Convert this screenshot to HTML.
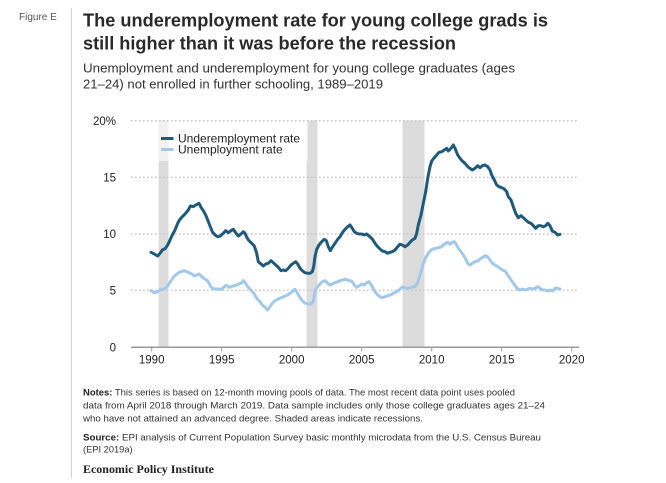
<!DOCTYPE html>
<html>
<head>
<meta charset="utf-8">
<style>
  html,body{margin:0;padding:0;background:#fff;}
  svg{display:block;}
  text{font-family:"Liberation Sans", Arial, sans-serif;}
</style>
</head>
<body>
<svg width="666" height="483" viewBox="0 0 666 483" xmlns="http://www.w3.org/2000/svg">
  <rect width="666" height="483" fill="#fff"/>
  <!-- left rule -->
  <line x1="71.5" y1="8" x2="71.5" y2="478" stroke="#d0d0d0" stroke-width="1"/>
  <text x="19" y="20" font-size="10" fill="#555">Figure E</text>

  <!-- Title -->
  <text x="83" y="26.5" font-size="18.2" font-weight="bold" fill="#2a2a2a" textLength="465" lengthAdjust="spacingAndGlyphs">The underemployment rate for young college grads is</text>
  <text x="83" y="49.5" font-size="18.2" font-weight="bold" fill="#2a2a2a" textLength="373" lengthAdjust="spacingAndGlyphs">still higher than it was before the recession</text>

  <!-- Subtitle -->
  <text x="83" y="72.5" font-size="13.2" fill="#333" textLength="432" lengthAdjust="spacingAndGlyphs">Unemployment and underemployment for young college graduates (ages</text>
  <text x="83" y="88.5" font-size="13.2" fill="#333" textLength="300" lengthAdjust="spacingAndGlyphs">21–24) not enrolled in further schooling, 1989–2019</text>

  <!-- Recession bars -->
  <rect x="158.7" y="120.5" width="9.8" height="226.8" fill="#dcdcdc"/>
  <rect x="306.5" y="120.5" width="11" height="226.8" fill="#dcdcdc"/>
  <rect x="402.5" y="120.5" width="22" height="226.8" fill="#dcdcdc"/>

  <!-- Legend background -->
  <rect x="158" y="121" width="150" height="40" fill="#fff" fill-opacity="0.6"/>

  <!-- Gridlines -->
  <g stroke="#c8c8c8" stroke-width="1.5" stroke-dasharray="1.6 2.4">
    <line x1="131" y1="120.7" x2="579" y2="120.7"/>
    <line x1="131" y1="177.3" x2="579" y2="177.3"/>
    <line x1="131" y1="234" x2="579" y2="234"/>
    <line x1="131" y1="290.3" x2="579" y2="290.3"/>
  </g>

  <!-- Axis -->
  <line x1="131" y1="347.3" x2="579" y2="347.3" stroke="#9a9a9a" stroke-width="1.5"/>
  <g stroke="#9a9a9a" stroke-width="1">
    <line x1="151.7" y1="347.3" x2="151.7" y2="351.5"/>
    <line x1="221.7" y1="347.3" x2="221.7" y2="351.5"/>
    <line x1="291.7" y1="347.3" x2="291.7" y2="351.5"/>
    <line x1="361.7" y1="347.3" x2="361.7" y2="351.5"/>
    <line x1="431.7" y1="347.3" x2="431.7" y2="351.5"/>
    <line x1="501.7" y1="347.3" x2="501.7" y2="351.5"/>
    <line x1="571.7" y1="347.3" x2="571.7" y2="351.5"/>
  </g>

  <!-- Y labels -->
  <g font-size="11.5" fill="#222" text-anchor="end">
    <text x="116" y="124.8">20%</text>
    <text x="116" y="181.4">15</text>
    <text x="116" y="238.1">10</text>
    <text x="116" y="294.4">5</text>
    <text x="116" y="351.4">0</text>
  </g>
  <!-- X labels -->
  <g font-size="11.5" fill="#222" text-anchor="middle">
    <text x="151.7" y="363.5">1990</text>
    <text x="221.7" y="363.5">1995</text>
    <text x="291.7" y="363.5">2000</text>
    <text x="361.7" y="363.5">2005</text>
    <text x="431.7" y="363.5">2010</text>
    <text x="501.7" y="363.5">2015</text>
    <text x="571.7" y="363.5">2020</text>
  </g>

  <!-- Unemployment series -->
  <polyline fill="none" stroke="#a2c8ea" stroke-width="3" stroke-linejoin="round" stroke-linecap="round"
    points="151,290.7 154.3,292.7 157.7,291.7 160,290 163.3,289.3 165.7,288.3 168.3,285 171,280.7 173.3,277.3 175.7,275 178.3,272.7 181,271.7 184.3,270.7 186.7,271.7 189,272.7 191.7,274 194.3,276 196.7,275 199,274 201.7,276.7 204.3,278.7 207.7,280.7 210,285 212.3,288.3 215,289 218.3,289 221.7,289.3 224.3,286.7 226.7,285.3 229,287.3 231.7,286.3 234.3,285.7 236.7,285 239,284 241.7,282.7 243.3,280.7 245,282.7 247.7,286.7 251,290 254.3,294 256.7,298.3 260,301.7 262.3,305 265,307.3 267.7,310 270,306.7 272.3,303.3 275,300.7 277.7,299.3 280,298.3 282.3,297.3 285,296 287.7,295 290,293.3 292.3,291.7 295,289.3 296.7,291.7 299,296 301.7,300 304.3,302.7 307.7,304 311,304 313.3,301.7 314.3,295 315.7,289.3 317.7,286.7 320,284 322.3,281.7 325,280.7 327.7,283.3 330,285 332.3,284 335,282.7 337.7,281.7 340,280.7 342.3,280 345,279.3 347.7,280 350,280.7 352.3,281.7 354.3,285 356.7,287.3 359,286 361.7,284 364.3,285 366.7,282.7 369,281.7 372.3,286.7 375,291.7 377.7,295 380,296.7 382.3,297.7 385,296.7 387.7,295.7 390,295 392.3,294 395,292.3 397.7,291 400,289 402.3,287 405,287.7 407.7,288.3 410,287.7 412.3,287 415,286.7 417.3,283.3 419,278.3 421,271.7 423.3,263.3 425.7,257.7 428.3,253.3 431,250 433.3,249 435.7,248.3 438.3,247.7 441,247 443.3,245 445.7,243.3 447.7,242.3 450,244.3 452.3,242.3 454.3,241.7 455.7,243.3 458.3,248.3 461,251.7 463.3,255 465.7,259 467.7,263.3 470,265 472.3,263.3 475,261.7 477.7,261 480,259 482.3,257.7 485,255.7 487.7,256.7 490,260 492.3,263.3 495,265 497.7,266.7 500,268.3 502.3,270 505,271 507.7,275 510,278.3 512.3,281.7 515,285.7 517.7,289 520,290 522.3,289 525,290 527.7,289 530,288.3 532.3,289 535,288.3 537.7,286.7 540,288.3 542.3,290 545,290 547.7,291 550,290 552.3,291 555,288.3 557.7,288.3 560,289"/>

  <!-- Underemployment series -->
  <polyline fill="none" stroke="#1f5a7a" stroke-width="3" stroke-linejoin="round" stroke-linecap="round"
    points="151,252.3 154.3,254 157.7,256 160,253.3 162.3,250 165,248.7 167.7,245 170,240 172.3,235 175,230 177.7,223.3 180,219.3 182.3,216.7 185,214 188.3,210 190.3,206 193.3,206.7 195.7,205 199,203.3 201,207.3 203.3,210.7 205.7,215 207.7,220 210,226 212.3,231.7 215,235 217.7,236.7 220.3,236 223.3,233.3 225.7,230.7 228.3,232.7 231,230.7 233.3,229.3 235.7,232.7 238.3,236 241,234 243.3,231.7 245,233.3 246.7,237.3 249,240.7 251.7,243.3 254.3,246 256.7,253.3 258.3,261.7 261,264 263.3,266 265.7,264 268.3,263.3 271,260.7 273.3,262.7 275.7,265 278.3,267.3 281,270.7 283.3,270 285.7,270.7 288.3,268.3 291,265 293.3,263.3 295.7,261.7 297.7,264 300,268.3 302.3,270.7 305,272.7 307.7,273.3 310,273.3 312.3,271.7 313.7,266.7 315,256.7 316.7,249.3 319,245 321.7,241.7 324.3,239.3 326.3,240.7 328.3,246.7 330.3,250.7 332.3,247.3 335,243.3 337.7,239.3 340,236.7 342.3,232.7 345,229.3 347.7,226.7 350,225 352.3,228.3 354.3,231.7 356.7,233.3 359,234 361.7,234 364.3,235 366.7,234 369,236 372.3,239 375,243.3 377.7,246.7 380,249 382.3,251 385,251.7 387.7,253.3 390,252.3 392.3,251.7 395,250 397.7,246.7 400,244.3 402.3,245 405,246.7 407.7,245 410,242.3 412.3,240 415,238.3 416.7,233.3 418.3,225 421,215 423.3,203.3 425.7,191.7 427.7,178.3 430,166.7 431.7,161 434.3,157.7 436.7,155 439,152.3 441.7,151.7 444.3,150 446.7,148.3 448.3,151 451,148.3 453.3,145 455,148.3 457.7,155 460,158.3 462.3,161 465,163.3 467.7,166.7 470,168.3 472.3,170 475,168.3 477.7,165.7 480,167.7 482.3,165.7 485,165 487.7,166.7 490,170 491.7,175 494.3,180 496.7,185 499,186.7 501.7,187.7 504.3,189 506.7,191.7 508.3,196.7 511,200 513.3,206.7 515.7,213.3 518.3,217.7 521,215.7 523.3,217.7 525.7,220 528.3,222.3 531,223.3 533.3,225.7 535.7,228.3 538.3,225.7 541,225.7 543.3,226.7 545.7,225.7 547.7,223.3 550,225.7 552.3,231 555,232.3 557.7,235 560,234.3"/>

  <!-- Legend -->
  <line x1="161" y1="138.5" x2="173.5" y2="138.5" stroke="#1f5a7a" stroke-width="3"/>
  <line x1="161" y1="149.5" x2="173.5" y2="149.5" stroke="#a2c8ea" stroke-width="3"/>
  <text x="178" y="142.7" font-size="12" fill="#222">Underemployment rate</text>
  <text x="178" y="153.7" font-size="12" fill="#222">Unemployment rate</text>

  <!-- Notes -->
  <g font-size="9.3" fill="#333">
    <text x="83" y="395.5" textLength="432" lengthAdjust="spacingAndGlyphs"><tspan font-weight="bold" fill="#222">Notes:</tspan> This series is based on 12-month moving pools of data. The most recent data point uses pooled</text>
    <text x="83" y="408.5" textLength="462" lengthAdjust="spacingAndGlyphs">data from April 2018 through March 2019. Data sample includes only those college graduates ages 21–24</text>
    <text x="83" y="421.5" textLength="340" lengthAdjust="spacingAndGlyphs">who have not attained an advanced degree. Shaded areas indicate recessions.</text>
    <text x="83" y="440.5" textLength="458" lengthAdjust="spacingAndGlyphs"><tspan font-weight="bold" fill="#222">Source:</tspan> EPI analysis of Current Population Survey basic monthly microdata from the U.S. Census Bureau</text>
    <text x="83" y="452.5">(EPI 2019a)</text>
  </g>
  <text x="83" y="473" style="font-family:'Liberation Serif', serif; font-size:11.5px; font-weight:bold;" fill="#222" textLength="131" lengthAdjust="spacingAndGlyphs">Economic Policy Institute</text>
</svg>
</body>
</html>
